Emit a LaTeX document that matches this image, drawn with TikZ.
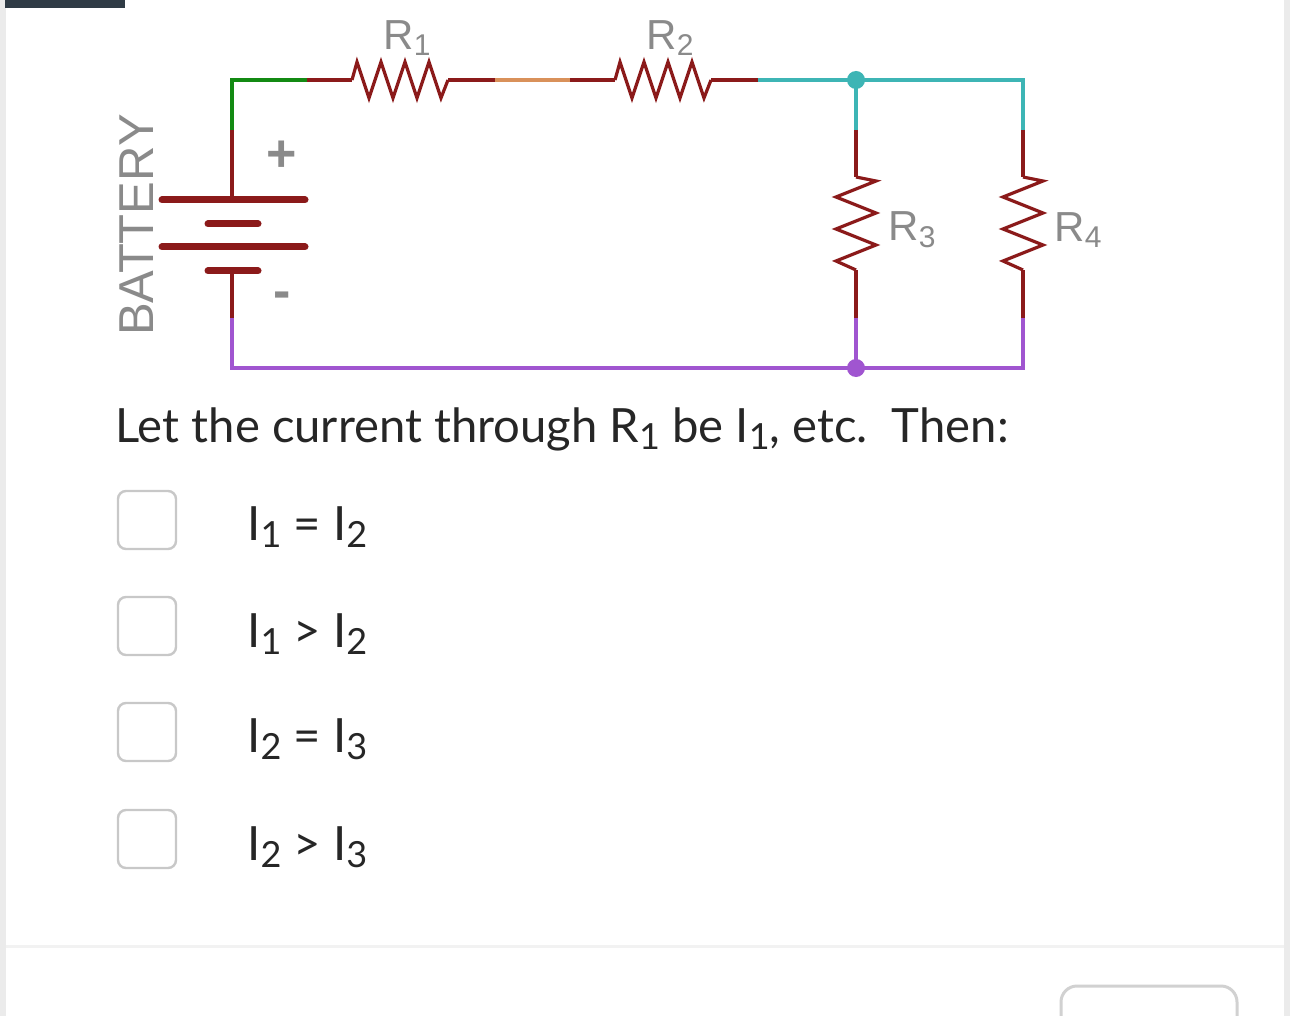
\documentclass[tikz,border=0pt]{standalone}
\usepackage{fontspec}
\setmainfont{Lato}
\newfontfamily\arialf{Liberation Sans}
\definecolor{wred}{HTML}{8B1A1A}
\definecolor{wgreen}{HTML}{138A13}
\definecolor{worange}{HTML}{D9915A}
\definecolor{wteal}{HTML}{3DB5B5}
\definecolor{wpurple}{HTML}{A055D0}
\definecolor{lgray}{HTML}{8A8A8A}
\definecolor{boxgray}{HTML}{C8C8C8}
\definecolor{darkbar}{HTML}{2F3B45}
\newcommand\lsub[1]{\raisebox{-0.32ex}{\fontsize{18}{18}\selectfont #1}}
\newcommand\asub[1]{\raisebox{-0.3ex}{\fontsize{15}{15}\selectfont #1}}
\newcommand\zzH[1]{(#1,80) -- ++(5,-18) -- ++(12,36) -- ++(12,-36) -- ++(12,36) -- ++(12,-36) -- ++(12,36) -- ++(12,-36) -- ++(12,36) -- ++(7,-18)}
\newcommand\zzV[1]{(#1,177) -- ++(20,4) -- ++(-40,16) -- ++(40,16) -- ++(-40,16) -- ++(40,16) -- ++(-40,16) -- ++(20,9)}
\begin{document}
\begin{tikzpicture}[x=0.5pt,y=-0.5pt,
  wire/.style={line width=2pt},
  plate/.style={line width=3.5pt,wred,line cap=round},
  lab/.style={font=\arialf\fontsize{21}{21}\selectfont,text=lgray,inner sep=0pt},
  txt/.style={font=\fontsize{23.6}{30}\selectfont,text=black!85,inner sep=0pt,anchor=base west},
  cbox/.style={draw=boxgray,line width=1.2pt,rounded corners=4pt}]
\useasboundingbox (0,0) rectangle (1290,1016);
\fill[white] (0,0) rectangle (1290,1016);
\fill[black!8] (0,0) rectangle (6,1016);
\fill[black!8] (1284,0) rectangle (1290,1016);
\fill[darkbar] (5,0) rectangle (125,8);
% coordinates
\coordinate (g1) at (232,130); \coordinate (tl) at (232,80); \coordinate (g2) at (307,80);
\coordinate (r1a) at (352,80); \coordinate (r1b) at (448,80); \coordinate (o1) at (495,80);
\coordinate (o2) at (570,80); \coordinate (r2a) at (615,80); \coordinate (r2b) at (711,80);
\coordinate (t1) at (758,80); \coordinate (j1) at (856,80); \coordinate (tr) at (1023,80);
\coordinate (j1d) at (856,130); \coordinate (trd) at (1023,130);
\coordinate (r3a) at (856,177); \coordinate (r3b) at (856,270);
\coordinate (r4a) at (1023,177); \coordinate (r4b) at (1023,270);
\coordinate (p3) at (856,318); \coordinate (p4) at (1023,318);
\coordinate (j2) at (856,368); \coordinate (br) at (1023,368); \coordinate (bl) at (232,368);
\coordinate (pl) at (232,318); \coordinate (bt) at (232,200); \coordinate (bb) at (232,271);
% wires
\draw[wire,wgreen] (g1) -- (tl) -- (g2);
\draw[wire,wred] (g2) -- (r1a) (r1b) -- (o1) (o2) -- (r2a) (r2b) -- (t1);
\draw[wire,wred,line width=1.6pt] \zzH{352};
\draw[wire,wred,line width=1.6pt] \zzH{615};
\draw[wire,worange] (o1) -- (o2);
\draw[wire,wteal] (t1) -- (tr) -- (trd) (j1) -- (j1d);
\draw[wire,wred] (j1d) -- (r3a) (r3b) -- (p3) (trd) -- (r4a) (r4b) -- (p4);
\draw[wire,wred,line width=1.6pt] \zzV{856};
\draw[wire,wred,line width=1.6pt] \zzV{1023};
\draw[wire,wpurple] (pl) -- (bl) -- (br) -- (p4) (j2) -- (p3);
\draw[wire,wred] (g1) -- (bt) (bb) -- (pl);
\fill[wteal] (j1) circle (9);
\fill[wpurple] (j2) circle (9);
% battery
\draw[plate] (162,200) -- (305,200);
\draw[plate] (208,224) -- (258,224);
\draw[plate] (162,247) -- (305,247);
\draw[plate] (208,271) -- (258,271);
\node[font=\arialf\fontsize{26}{26}\selectfont\bfseries,text=lgray] (plus) at (282,156) {+};
\node[font=\arialf\fontsize{26}{26}\selectfont\bfseries,text=lgray] (minus) at (282,300) {-};
\node[lab,font=\arialf\fontsize{24.5}{24}\selectfont,rotate=90] (batt) at (137,225) {BATTERY};
\node[lab] (l1) at (407,38) {R\asub{1}};
\node[lab] (l2) at (670,38) {R\asub{2}};
\node[lab] (l3) at (912,230) {R\asub{3}};
\node[lab] (l4) at (1078,230) {R\asub{4}};
% text
\node[txt] (q) at (115,442) {Let the current through R\lsub{1} be I\lsub{1}, etc.\ \ Then:};
\draw[cbox] (118,491) rectangle (176,549);
\draw[cbox] (118,597) rectangle (176,655);
\draw[cbox] (118,703) rectangle (176,761);
\draw[cbox] (118,810) rectangle (176,868);
\node[txt] (a1) at (247,540) {I\lsub{1} = I\lsub{2}};
\node[txt] (a2) at (247,647) {I\lsub{1} > I\lsub{2}};
\node[txt] (a3) at (247,752) {I\lsub{2} = I\lsub{3}};
\node[txt] (a4) at (247,860) {I\lsub{2} > I\lsub{3}};
\fill[black!5] (6,945) rectangle (1284,948);
\draw[black!18,line width=1.5pt,rounded corners=8pt] (1061,1030) -- (1061,986) -- (1237,986) -- (1237,1030);
\end{tikzpicture}
\end{document}
